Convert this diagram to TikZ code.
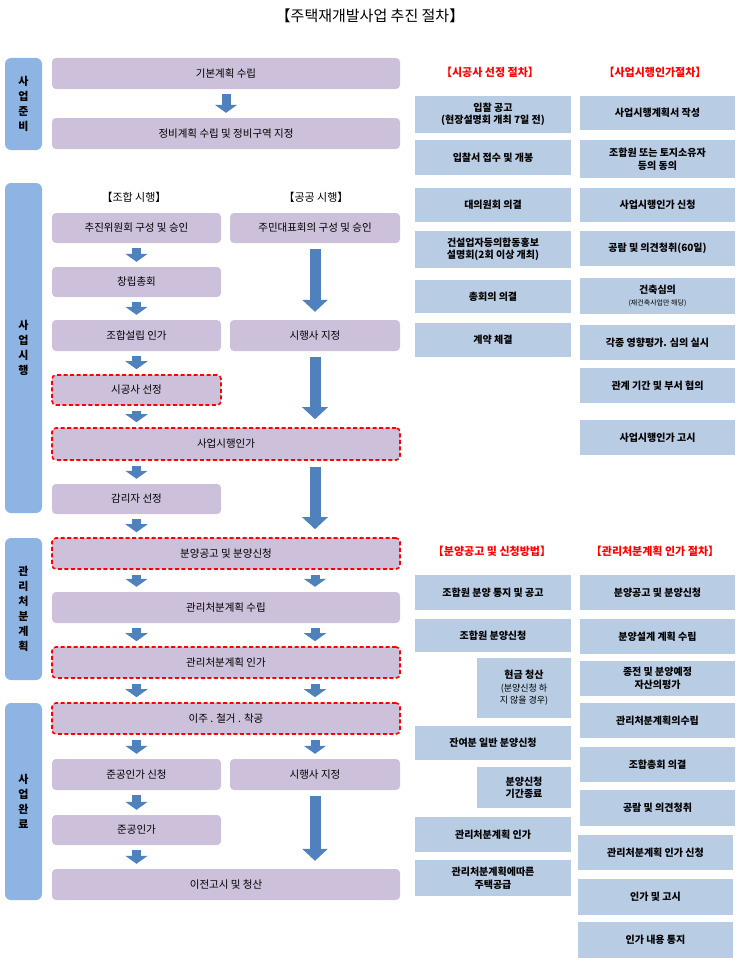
\documentclass[tikz,border=0pt]{standalone}
\usepackage{fontspec}
\setmainfont{Noto Sans CJK KR}
\usetikzlibrary{arrows.meta}
\definecolor{pur}{HTML}{CCC0DA}
\definecolor{stg}{HTML}{8DB4E2}
\definecolor{rbx}{HTML}{B8CCE4}
\definecolor{arr}{HTML}{4F81BD}
\definecolor{redd}{HTML}{FF0000}
\newcommand\B[7]{\node[#1, minimum width={#5-#3}, minimum height={#6-#4}] (#2) at ({(#3+#5)/2},{(#4+#6)/2}) {#7};}
\tikzset{
 pbox/.style={fill=pur, rounded corners=4pt, inner sep=0pt, align=center, font=\fontsize{10.5}{13}\selectfont},
 dbox/.style={pbox, draw=redd, line width=1.6pt, dash pattern=on 4pt off 2.5pt},
 sbox/.style={fill=stg, rounded corners=6pt, inner sep=0pt, align=center, font=\bfseries\fontsize{11}{15}\selectfont},
 rbox/.style={fill=rbx, inner sep=0pt, align=center, font=\bfseries\fontsize{10}{12.5}\selectfont},
 hdr/.style={font=\fontsize{11}{13}\selectfont},
 rhdr/.style={font=\bfseries\fontsize{11}{13}\selectfont, text=redd},
 sarr/.style={arr, line width=9pt, -{Triangle[width=22pt,length=8pt]}, shorten <=5pt, shorten >=5pt},
 larr/.style={arr, line width=11pt, -{Triangle[width=25pt,length=12pt]}, shorten <=6pt, shorten >=8pt},
}
\begin{document}
\begin{tikzpicture}[x=1pt,y=-1pt]
\useasboundingbox (0,0) rectangle (740,958);
\node[font=\fontsize{15}{17}\selectfont] (title) at (370,16) {【주택재개발사업 추진 절차】};
% stages
\B{sbox}{s1}{5}{58}{42}{150}{사\\업\\준\\비}
\B{sbox}{s2}{5}{183}{42}{513}{사\\업\\시\\행}
\B{sbox}{s3}{5}{538}{42}{680}{관\\리\\처\\분\\계\\획}
\B{sbox}{s4}{5}{703}{42}{900}{사\\업\\완\\료}
% flow
\B{pbox}{a1}{52}{58}{400}{89}{기본계획 수립}
\B{pbox}{a2}{52}{118}{400}{149}{정비계획 수립 및 정비구역 지정}
\node[hdr] (h1) at (134,197) {【조합 시행】};
\node[hdr] (h2) at (316,197) {【공공 시행】};
\B{pbox}{b1}{52}{213}{221}{243}{추진위원회 구성 및 승인}
\B{pbox}{c1}{230}{213}{400}{243}{주민대표회의 구성 및 승인}
\B{pbox}{b2}{52}{267}{221}{297}{창립총회}
\B{pbox}{b3}{52}{320}{221}{351}{조합설립 인가}
\B{pbox}{c2}{230}{320}{400}{351}{시행사 지정}
\B{dbox}{b4}{52}{375}{221}{405}{시공사 선정}
\B{dbox}{a3}{52}{428}{400}{460}{사업시행인가}
\B{pbox}{b5}{52}{484}{221}{514}{감리자 선정}
\B{dbox}{a4}{52}{538}{400}{569}{분양공고 및 분양신청}
\B{pbox}{a5}{52}{592}{400}{623}{관리처분계획 수립}
\B{dbox}{a6}{52}{647}{400}{678}{관리처분계획 인가}
\B{dbox}{a7}{52}{703}{400}{734}{이주 . 철거 . 착공}
\B{pbox}{b6}{52}{759}{221}{790}{준공인가 신청}
\B{pbox}{c3}{230}{759}{400}{790}{시행사 지정}
\B{pbox}{b7}{52}{815}{221}{845}{준공인가}
\B{pbox}{a8}{52}{869}{400}{900}{이전고시 및 청산}
% arrows
\draw[sarr] (a1.south) -- (a2.north);
\draw[sarr] (b1.south) -- (b2.north);
\draw[sarr] (b2.south) -- (b3.north);
\draw[sarr] (b3.south) -- (b4.north);
\draw[sarr] (b4.south) -- (b4.south|-a3.north);
\draw[sarr] (b4.south|-a3.south) -- (b5.north);
\draw[sarr] (b5.south) -- (b5.south|-a4.north);
\draw[larr] (c1.south) -- (c2.north);
\draw[larr] (c2.south) -- (c2.south|-a3.north);
\draw[larr] (c2.south|-a3.south) -- (c2.south|-a4.north);
\foreach \u/\v in {a4/a5,a5/a6,a6/a7}{
 \draw[sarr] (b1.south|-\u.south) -- (b1.south|-\v.north);
 \draw[sarr] (c1.south|-\u.south) -- (c1.south|-\v.north);
}
\draw[sarr] (b1.south|-a7.south) -- (b6.north);
\draw[sarr] (c1.south|-a7.south) -- (c3.north);
\draw[sarr] (b6.south) -- (b7.north);
\draw[sarr] (b7.south) -- (b7.south|-a8.north);
\draw[larr] (c3.south) -- (c3.south|-a8.north);
% right headers
\node[rhdr] (r1) at (490,72) {【시공사 선정 절차】};
\node[rhdr] (r2) at (655,72) {【사업시행인가절차】};
\node[rhdr] (r3) at (492,551) {【분양공고 및 신청방법】};
\node[rhdr] (r4) at (655,551) {【관리처분계획 인가 절차】};
% column A top
\B{rbox}{p1}{415}{96}{571}{133}{입찰 공고\\(현장설명회 개최 7일 전)}
\B{rbox}{p2}{415}{140}{571}{175}{입찰서 접수 및 개봉}
\B{rbox}{p3}{415}{188}{571}{222}{대의원회 의결}
\B{rbox}{p4}{415}{231}{571}{268}{건설업자등의합동홍보\\설명회(2회 이상 개최)}
\B{rbox}{p5}{415}{280}{571}{313}{총회의 의결}
\B{rbox}{p6}{415}{323}{571}{357}{계약 체결}
% column B top
\B{rbox}{q1}{580}{96}{735}{130}{사업시행계획서 작성}
\B{rbox}{q2}{580}{140}{735}{178}{조합원 또는 토지소유자\\등의 동의}
\B{rbox}{q3}{580}{188}{735}{222}{사업시행인가 신청}
\B{rbox}{q4}{580}{231}{735}{266}{공람 및 의견청취(60일)}
\B{rbox}{q5}{580}{278}{735}{314}{건축심의\\{\mdseries\fontsize{7}{9}\selectfont (재건축사업만 해당)}}
\B{rbox}{q6}{580}{325}{735}{360}{각종 영향평가. 심의 실시}
\B{rbox}{q7}{580}{368}{735}{403}{관계 기간 및 부서 협의}
\B{rbox}{q8}{580}{420}{735}{455}{사업시행인가 고시}
% column A bottom
\B{rbox}{u1}{415}{575}{571}{610}{조합원 분양 통지 및 공고}
\B{rbox}{u2}{415}{619}{571}{652}{조합원 분양신청}
\B{rbox}{u3}{477}{658}{571}{718}{현금 청산\\{\mdseries\fontsize{9}{11}\selectfont (분양신청 하}\\{\mdseries\fontsize{9}{11}\selectfont 지 않을 경우)}}
\B{rbox}{u4}{415}{726}{571}{760}{잔여분 일반 분양신청}
\B{rbox}{u5}{477}{767}{571}{808}{분양신청\\기간종료}
\B{rbox}{u6}{415}{817}{571}{852}{관리처분계획 인가}
\B{rbox}{u7}{415}{860}{571}{896}{관리처분계획에따른\\주택공급}
% column B bottom
\B{rbox}{v1}{580}{575}{735}{610}{분양공고 및 분양신청}
\B{rbox}{v2}{580}{619}{735}{654}{분양설계 계획 수립}
\B{rbox}{v3}{580}{661}{735}{696}{종전 및 분양예정\\자산의평가}
\B{rbox}{v4}{580}{703}{735}{738}{관리처분계획의수립}
\B{rbox}{v5}{580}{747}{735}{782}{조합총회 의결}
\B{rbox}{v6}{580}{790}{735}{826}{공람 및 의견청취}
\B{rbox}{v7}{578}{835}{733}{870}{관리처분계획 인가 신청}
\B{rbox}{v8}{578}{879}{733}{915}{인가 및 고시}
\B{rbox}{v9}{578}{922}{733}{958}{인가 내용 통지}
\end{tikzpicture}
\end{document}
